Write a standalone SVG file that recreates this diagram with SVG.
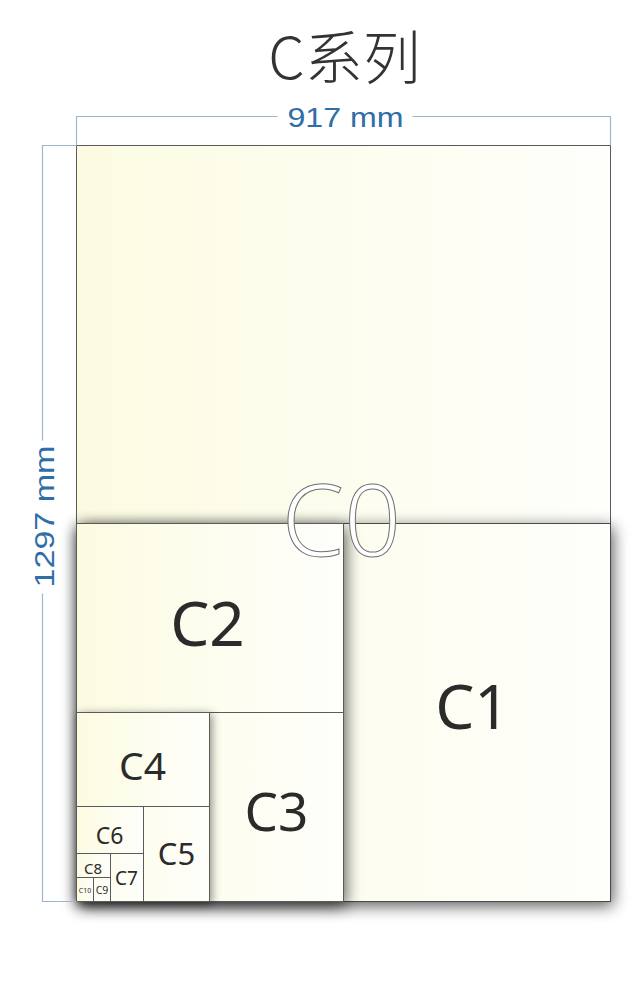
<svg xmlns="http://www.w3.org/2000/svg" width="641" height="1000" viewBox="0 0 641 1000">
<style>
.sheet{fill:url(#paper);stroke:#5a5a5a;stroke-width:1}
.lbl{font-family:"Noto Sans","Open Sans","DejaVu Sans",sans-serif;fill:#2b2b2b;text-anchor:middle}
.dim{stroke:#9fb5c9;stroke-width:1.2;fill:none}
.dimtxt{font-family:"Liberation Sans",Arial,sans-serif;font-size:28px;fill:#2f6ea6;text-anchor:middle}
</style>
<defs>
<linearGradient id="paper" x1="0" y1="0" x2="1" y2="0">
<stop offset="0" stop-color="#fcfbe1"/>
<stop offset="0.5" stop-color="#fdfdef"/>
<stop offset="1" stop-color="#fefefb"/>
</linearGradient>
<filter id="shadow" x="-20%" y="-20%" width="140%" height="150%">
<feGaussianBlur in="SourceAlpha" stdDeviation="8"/>
<feOffset dx="2" dy="4" result="b"/>
<feComponentTransfer><feFuncA type="linear" slope="0.65"/></feComponentTransfer>
<feMerge><feMergeNode/><feMergeNode in="SourceGraphic"/></feMerge>
</filter>
<filter id="shadowS" x="-30%" y="-30%" width="160%" height="160%">
<feGaussianBlur in="SourceAlpha" stdDeviation="5"/>
<feOffset dx="2" dy="2" result="b"/>
<feComponentTransfer><feFuncA type="linear" slope="0.45"/></feComponentTransfer>
<feMerge><feMergeNode/><feMergeNode in="SourceGraphic"/></feMerge>
</filter>
</defs>
<rect width="641" height="1000" fill="#ffffff"/>
<g transform="translate(0.5,0.5)">
<g id="C0"><rect class="sheet" x="76" y="145" width="534" height="756"/></g>
<g id="C1"><rect class="sheet" x="76" y="523" width="534" height="378" filter="url(#shadow)" style="stroke:#4a4a4a"/><text class="lbl" x="472" y="728" font-size="62">C1</text></g>
<g id="C2"><rect class="sheet" x="76" y="523" width="267" height="378" filter="url(#shadow)"/><text class="lbl" x="207" y="645" font-size="62">C2</text></g>
<g id="C3"><rect class="sheet" x="76" y="712" width="267" height="189"/><text class="lbl" x="276" y="830" font-size="53">C3</text></g>
<g id="C4"><rect class="sheet" x="76" y="712" width="133" height="189" filter="url(#shadowS)"/><text class="lbl" x="142" y="779" font-size="39">C4</text></g>
<g id="C5"><rect class="sheet" x="76" y="806" width="133" height="95"/><text class="lbl" x="176" y="864" font-size="31">C5</text></g>
<g id="C6"><rect class="sheet" x="76" y="806" width="67" height="95"/><text class="lbl" x="109" y="843" font-size="23">C6</text></g>
<g id="C7"><rect class="sheet" x="76" y="853" width="67" height="48"/><text class="lbl" x="126" y="884" font-size="19">C7</text></g>
<g id="C8"><rect class="sheet" x="76" y="853" width="34" height="48"/><text class="lbl" x="92.5" y="873" font-size="15">C8</text></g>
<g id="C9"><rect class="sheet" x="76" y="877" width="34" height="24"/><text class="lbl" x="101.5" y="893" font-size="10.5">C9</text></g>
<g id="C10"><rect class="sheet" x="76" y="877" width="17" height="24"/><text class="lbl" x="84.5" y="892" font-size="7">C10</text></g>
<g id="C0-label"><text class="lbl" x="341" y="555" font-size="100" font-weight="300" style="fill:#ffffff;stroke:#707070;stroke-width:1">C0</text></g>
<g id="dimensions">
<path class="dim" d="M76,145 V116 H277 M412,116 H610 V145"/>
<path class="dim" d="M76,145 H42 V440 M42,593 V901 H76"/>
<text class="dimtxt" x="345" y="126" textLength="116" lengthAdjust="spacingAndGlyphs">917 mm</text>
<text class="dimtxt" transform="translate(53,516) rotate(-90)" x="0" y="0" textLength="142" lengthAdjust="spacingAndGlyphs">1297 mm</text>
</g>
<g id="title"><text x="344" y="78" font-family="'Noto Sans CJK SC','Noto Sans',sans-serif" font-size="58" font-weight="300" fill="#333333" text-anchor="middle">C系列</text></g>
</g>
</svg>
